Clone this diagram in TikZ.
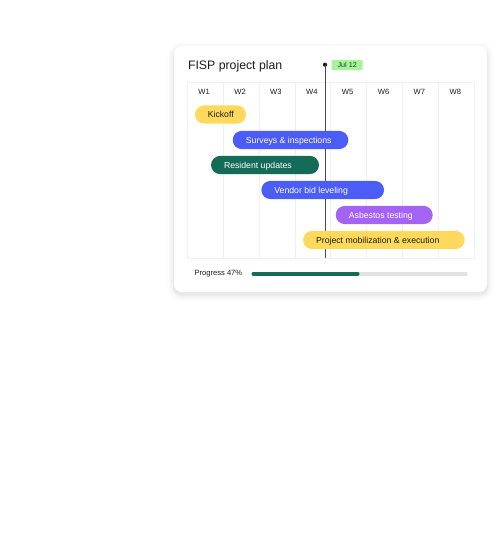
\documentclass[tikz,border=0pt]{standalone}
\usepackage{fontspec}
\setmainfont{Liberation Sans}
\usetikzlibrary{shapes.misc}
\definecolor{ybar}{HTML}{FFD95C}
\definecolor{bbar}{HTML}{4B5CF7}
\definecolor{gbar}{HTML}{136B58}
\definecolor{pbar}{HTML}{A463F2}
\definecolor{gridc}{HTML}{F0F0F0}
\definecolor{badge}{HTML}{A8F29A}
\definecolor{badgetxt}{HTML}{14482A}
\definecolor{inkc}{HTML}{1C1C1C}
\definecolor{trackc}{HTML}{E2E2E2}
\definecolor{todayc}{HTML}{4A4A4A}
\tikzset{
  bar/.style={rounded rectangle, inner sep=0pt, minimum height=18.2pt, draw=none},
  lbl/.style={anchor=west, inner sep=0pt, font=\fontsize{8.7}{10}\selectfont, text height=6.2pt, text depth=0pt},
  hdr/.style={inner sep=0pt, font=\fontsize{7.6}{9}\selectfont, text=inkc},
  gridline/.style={draw=gridc, line width=0.7pt},
}
\begin{document}
\begin{tikzpicture}[x=1pt,y=-1pt]
\useasboundingbox (0,0) rectangle (500,533);
\fill[white] (0,0) rectangle (500,533);
% shadow
\foreach \e/\o in {7/0.008,5.5/0.01,4/0.013,2.8/0.016,1.6/0.02,0.8/0.022}{
  \fill[black, opacity=\o, rounded corners=8+\e] (174-\e,46-\e+2.5) rectangle (487+\e,292+\e+2.5);
}
% card
\fill[white, rounded corners=8] (174,46) rectangle (487,292);
% title
\node[anchor=west, inner sep=0pt, font=\fontsize{12.3}{14}\selectfont, text=inkc] (title) at (187.8,66.5) {FISP project plan};
% grid
\draw[gridline] (187.3,82.7) rectangle (474.3,258.3);
\foreach \i in {1,...,7}{
  \draw[gridline] (187.3+35.875*\i,82.7) -- (187.3+35.875*\i,258.3);
}
\foreach \i in {1,...,8}{
  \node[hdr] (w\i) at (187.3+35.875*\i-19,92.3) {W\i};
}
% today line
\fill[inkc] (325,64.7) circle (2.1pt) coordinate (dot);
\coordinate (lineend) at (325,258.3);
\draw[todayc, line width=0.9pt] (dot) -- (lineend);
\node[fill=badge, rounded corners=1pt, minimum width=31pt, minimum height=10pt, inner sep=0pt, font=\fontsize{7.2}{8}\selectfont, text=badgetxt] (jul) at (347.2,65) {Jul 12};
% bars
\node[bar, fill=ybar, minimum width=51pt] (b1) at (220.5,114.5) {};
\node[lbl, text=inkc] (t1) at ([xshift=12.8pt]b1.west) {Kickoff};
\node[bar, fill=bbar, minimum width=115.6pt] (b2) at (290.5,140) {};
\node[lbl, text=white] (t2) at ([xshift=13.2pt]b2.west) {Surveys \& inspections};
\node[bar, fill=gbar, minimum width=108pt] (b3) at (265,165) {};
\node[lbl, text=white] (t3) at ([xshift=13pt]b3.west) {Resident updates};
\node[bar, fill=bbar, minimum width=122.7pt] (b4) at (322.7,190) {};
\node[lbl, text=white] (t4) at ([xshift=13pt]b4.west) {Vendor bid leveling};
\node[bar, fill=pbar, minimum width=97pt] (b5) at (384.2,215) {};
\node[lbl, text=white] (t5) at ([xshift=13.2pt]b5.west) {Asbestos testing};
\node[bar, fill=ybar, minimum width=161.7pt] (b6) at (383.9,240) {};
\node[lbl, text=inkc] (t6) at ([xshift=13pt]b6.west) {Project mobilization \& execution};
% progress
\node[anchor=west, inner sep=0pt, font=\fontsize{7.6}{9}\selectfont, text=inkc] (prog) at (194.3,273.7) {Progress 47\%};
\coordinate (trs) at (253.3,273.7);
\coordinate (tre) at (466,273.7);
\coordinate (trf) at (357.7,273.7);
\draw[trackc, line width=3.6pt, line cap=round] (trs) -- (tre);
\draw[gbar, line width=3.6pt, line cap=round] (trs) -- (trf);
\end{tikzpicture}
\end{document}
